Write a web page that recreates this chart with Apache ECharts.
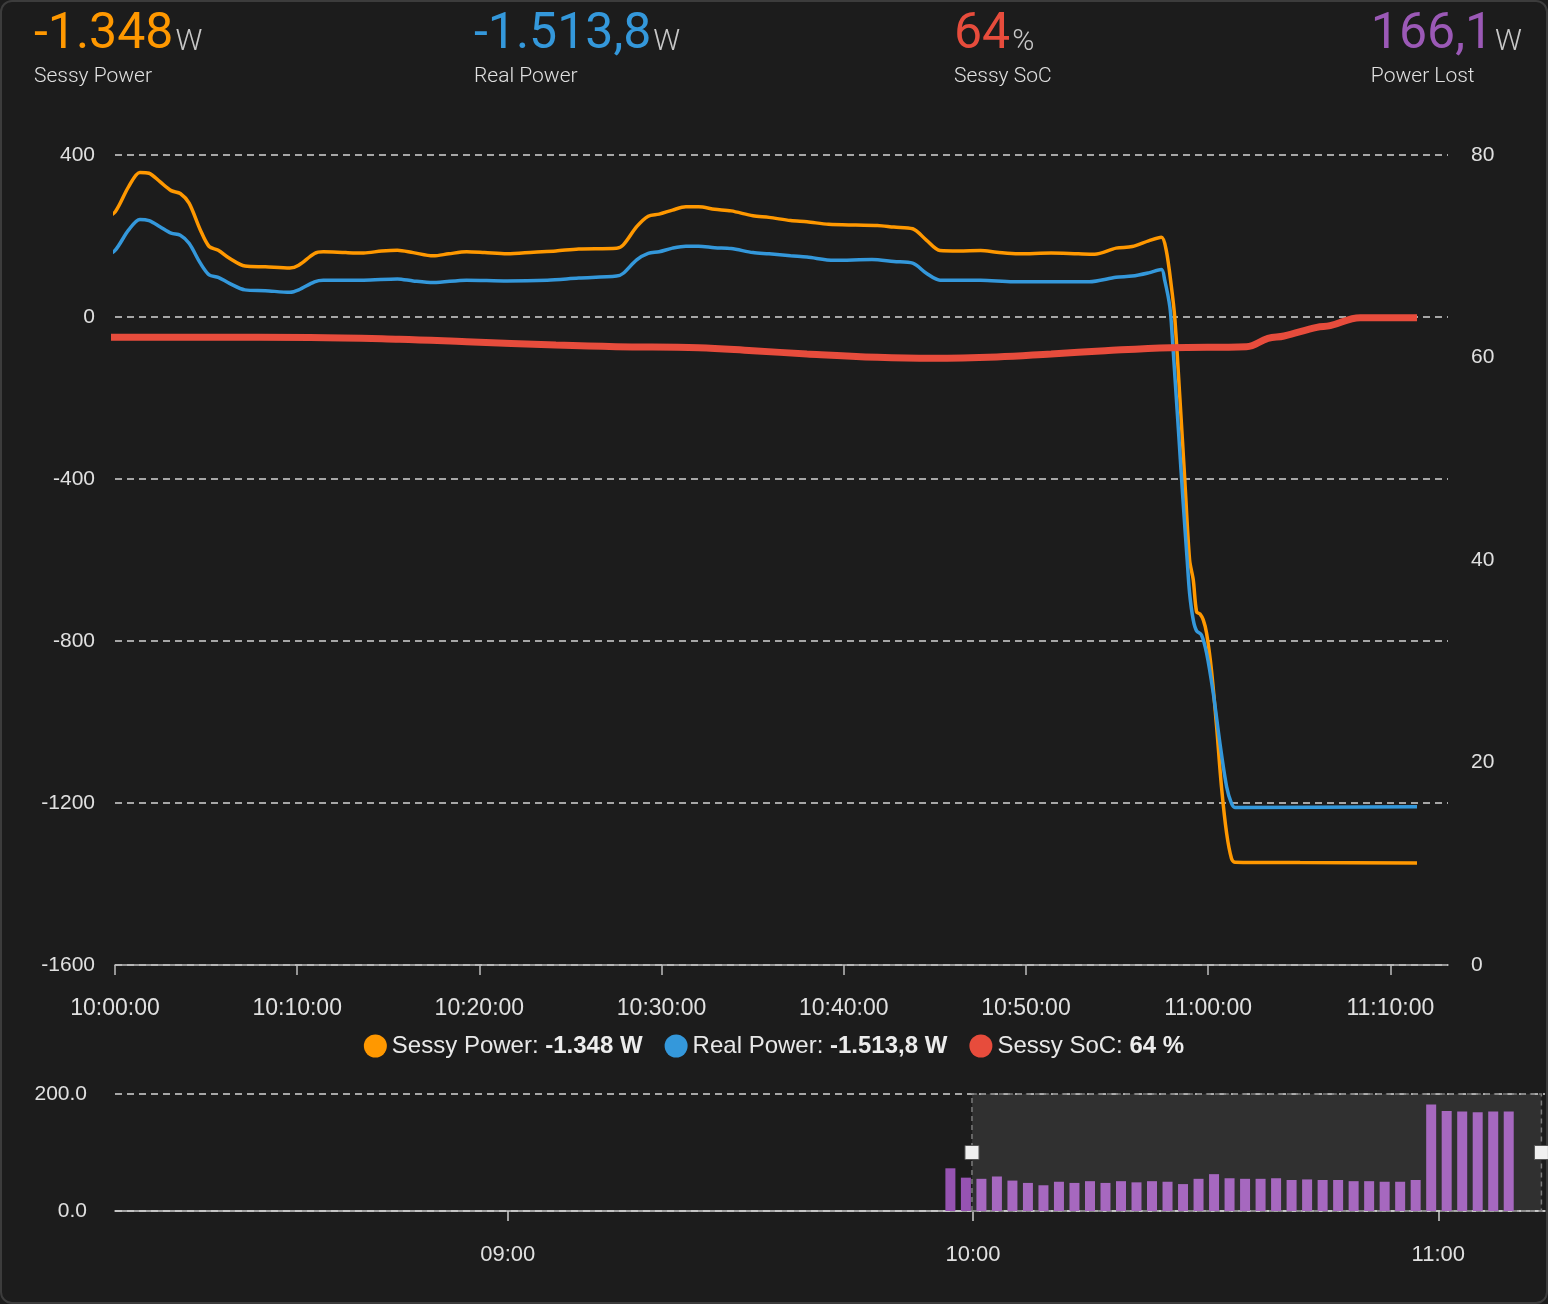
<!DOCTYPE html>
<html>
<head>
<meta charset="utf-8">
<script src="https://cdn.jsdelivr.net/npm/echarts@6/dist/echarts.min.js"></script>
<style>
html,body{margin:0;padding:0;background:#1c1c1c;}
#frame{position:absolute;left:0;top:0;width:1548px;height:1304px;box-sizing:border-box;border:2px solid #3c3c3c;border-radius:12px;background:#1c1c1c;}
#chart{position:absolute;left:0;top:0;width:1548px;height:1304px;}
</style>
</head>
<body>
<div id="frame"></div>
<div id="chart"></div>
<script>
// ---------- data ----------
const headerValues = ['-1.348', '-1.513,8', '64', '166,1'];
const headerUnits  = ['W', 'W', '%', 'W'];
const headerLabels = ['Sessy Power', 'Real Power', 'Sessy SoC', 'Power Lost'];
const headerColors = ['#ff9800', '#3498db', '#e74c3c', '#9b59b6'];

const legendNames  = ['Sessy Power', 'Real Power', 'Sessy SoC'];
const legendValues = ['-1.348 W', '-1.513,8 W', '64 %'];

const sessyTimes = ['09:59:29','10:00:01','10:00:45','10:01:22','10:01:52','10:02:28','10:03:05','10:03:35','10:04:04','10:04:41','10:05:10','10:05:40','10:06:17','10:07:08','10:08:15','10:09:36','10:10:05','10:10:57','10:11:26','10:12:40','10:13:39','10:14:38','10:15:30','10:16:22','10:17:28','10:18:19','10:19:18','10:20:17','10:21:31','10:22:59','10:24:12','10:25:27','10:27:32','10:27:54','10:28:38','10:29:16','10:29:52','10:30:36','10:31:20','10:32:02','10:32:55','10:33:49','10:35:01','10:35:54','10:37:05','10:37:59','10:39:10','10:40:40','10:41:51','10:42:45','10:43:47','10:44:32','10:45:17','10:46:19','10:47:31','10:48:24','10:49:35','10:51:23','10:52:52','10:53:46','10:54:57','10:55:50','10:56:44','10:57:26','10:57:42','10:57:59','10:58:10','10:58:27','10:58:43','10:58:59','10:59:11','10:59:22','10:59:33','10:59:44','10:59:55','11:00:11','11:00:28','11:00:44','11:01:01','11:01:17','11:01:28','11:05:03','11:11:28'];
const sessyValues = [244,260,322,357,355,334,312,305,281,215,174,165,145,126,124,121,128,157,161,159,158,163,165,159,151,156,161,159,156,160,163,168,170,178,223,249,254,264,272,272,266,262,250,246,238,235,229,227,226,222,218,190,164,163,164,160,156,158,156,155,170,174,188,197,165,75,0,-200,-400,-600,-649,-728,-733,-748,-781,-872,-1012,-1160,-1275,-1337,-1346,-1347,-1348];

const realTimes = ['09:59:29','10:00:01','10:00:45','10:01:22','10:01:52','10:02:28','10:03:05','10:03:35','10:04:04','10:04:41','10:05:10','10:05:40','10:06:17','10:07:08','10:08:15','10:09:36','10:10:05','10:10:57','10:11:26','10:13:39','10:15:30','10:16:22','10:17:28','10:19:18','10:21:31','10:23:44','10:25:27','10:27:32','10:27:54','10:28:38','10:29:16','10:29:52','10:30:36','10:31:20','10:32:02','10:32:55','10:33:49','10:35:01','10:35:54','10:37:05','10:37:59','10:39:28','10:41:33','10:42:45','10:43:47','10:44:32','10:45:17','10:47:31','10:49:18','10:53:28','10:54:57','10:55:50','10:56:44','10:57:26','10:57:37','10:57:54','10:58:02','10:58:07','10:58:24','10:58:37','10:58:51','10:58:59','10:59:11','10:59:22','10:59:38','10:59:55','11:00:17','11:00:39','11:01:01','11:01:17','11:01:28','11:11:28'];
const realValues = [149,165,215,241,238,223,207,202,182,133,104,98,83,67,65,61,67,87,91,91,94,89,85,91,89,91,96,101,108,141,157,161,170,175,175,171,169,159,156,151,148,140,142,137,133,108,91,91,87,87,98,101,109,117,91,25,-49,-106,-300,-450,-600,-682,-748,-775,-785,-830,-929,-1053,-1160,-1201,-1211,-1209];

const socTimes = ['09:59:29','10:05:00','10:10:42','10:15:36','10:19:18','10:24:12','10:27:30','10:32:02','10:35:01','10:37:59','10:41:51','10:44:52','10:48:24','10:51:23','10:54:21','10:57:56','11:02:06','11:03:17','11:04:10','11:05:58','11:06:42','11:08:21','11:11:28'];
const socValues = [62.0,62.0,61.98,61.8,61.56,61.23,61.07,60.97,60.67,60.35,60.02,59.92,60.05,60.35,60.67,60.97,61.07,61.89,62.12,62.98,63.14,63.93,63.93];

const lostTimes = ['09:57:05','09:59:05','10:01:05','10:03:05','10:05:05','10:07:05','10:09:05','10:11:05','10:13:05','10:15:05','10:17:05','10:19:05','10:21:05','10:23:05','10:25:05','10:27:05','10:29:05','10:31:05','10:33:05','10:35:05','10:37:05','10:39:05','10:41:05','10:43:05','10:45:05','10:47:05','10:49:05','10:51:05','10:53:05','10:55:05','10:57:05','10:59:05','11:01:05','11:03:05','11:05:05','11:07:05','11:09:05'];
const lostValues = [73,57,55,59,52,48,44,50,48,51,48,51,49,51,50,46,55,63,56,55,55,56,53,54,53,53,51,51,50,50,53,182,171,170,169,170,170];

const mainRange  = ['10:00:00', '11:13:10'];
const mainStepMs = 600000;      // 10 minute ticks
const brushRange = ['08:10:00', '11:13:07'];
const selection  = ['09:59:52', '11:13:18'];

// ---------- helpers ----------
const day = '2024-05-01T';
const ts = s => new Date(day + s).getTime();
const pair = (t, v) => t.map((s, i) => [ts(s), v[i]]);
const pad = n => String(n).padStart(2, '0');
const hms = v => { const d = new Date(v); return pad(d.getHours()) + ':' + pad(d.getMinutes()) + ':' + pad(d.getSeconds()); };
const hm = v => { const d = new Date(v); return pad(d.getHours()) + ':' + pad(d.getMinutes()); };

const axisFont = 'Liberation Sans, Arial, sans-serif';
const dashed = { show: true, lineStyle: { color: '#d4d4d4', width: 1.5, type: [7, 5] } };

const headerPos = [{ left: 29 }, { left: 469 }, { left: 949 }, { right: 21 }];
const titles = headerValues.map((v, i) => Object.assign({
  top: 2,
  text: '{v|' + v + '}{u|' + headerUnits[i] + '}',
  subtext: headerLabels[i],
  itemGap: 9,
  textStyle: {
    fontWeight: 'normal',
    rich: {
      v: { fontSize: 50, color: headerColors[i], fontFamily: 'Roboto', fontWeight: 'normal', lineHeight: 56 },
      u: { fontSize: 30, color: '#c8c8c8', fontFamily: 'Roboto', fontWeight: 300, verticalAlign: 'bottom', padding: [0, 0, 6, 2] }
    }
  },
  subtextStyle: { fontSize: 21, color: '#e0e0e0', fontFamily: 'Roboto', fontWeight: 300 }
}, headerPos[i]));

const selStart = ts(selection[0]), selEnd = ts(selection[1]);
const mainMin = ts(mainRange[0]);

const chart = echarts.init(document.getElementById('chart'), null, { renderer: 'canvas' });
chart.setOption({
  animation: false,
  backgroundColor: 'transparent',
  title: titles,
  legend: {
    data: legendNames,
    top: 1029,
    left: 'center',
    icon: 'circle',
    itemWidth: 23,
    itemHeight: 23,
    itemGap: 22,
    formatter: name => name + ': {b|' + legendValues[legendNames.indexOf(name)] + '}',
    textStyle: {
      color: '#e8e8e8', fontSize: 24, fontFamily: axisFont,
      rich: { b: { fontWeight: 'bold', fontSize: 24, color: '#ececec', fontFamily: axisFont } }
    }
  },
  grid: [
    { left: 115, right: 100, top: 155, height: 810 },
    { left: 115, right: 3, top: 1094, height: 117 }
  ],
  xAxis: [
    {
      type: 'value', gridIndex: 0,
      min: mainMin, max: ts(mainRange[1]), interval: mainStepMs,
      axisLine: { show: true, onZero: false, lineStyle: { color: '#bdbdbd', width: 1.5 } },
      axisTick: { show: true, length: 10, lineStyle: { color: '#bdbdbd', width: 1.5 } },
      axisLabel: {
        color: '#e0e0e0', fontSize: 23, fontFamily: axisFont, margin: 32,
        showMaxLabel: false,
        formatter: v => ((v - mainMin) % mainStepMs === 0 ? hms(v) : '')
      },
      splitLine: { show: false }
    },
    {
      type: 'time', gridIndex: 1,
      min: ts(brushRange[0]), max: ts(brushRange[1]),
      minInterval: 3600000, maxInterval: 3600000,
      axisLine: { show: true, onZero: false, lineStyle: { color: '#cfcfcf', width: 1.5 } },
      axisTick: { show: true, length: 10, lineStyle: { color: '#cfcfcf', width: 1.5 } },
      axisLabel: { color: '#e0e0e0', fontSize: 22, fontFamily: axisFont, margin: 33, formatter: v => hm(v) },
      splitLine: { show: false }
    }
  ],
  yAxis: [
    {
      type: 'value', gridIndex: 0, position: 'left',
      min: -1600, max: 400, interval: 400,
      axisLine: { show: false }, axisTick: { show: false },
      axisLabel: { color: '#e0e0e0', fontSize: 21, fontFamily: axisFont, margin: 20, formatter: v => String(v) },
      splitLine: dashed
    },
    {
      type: 'value', gridIndex: 0, position: 'right',
      min: 0, max: 80, interval: 20,
      axisLine: { show: false }, axisTick: { show: false },
      axisLabel: { color: '#e0e0e0', fontSize: 21, fontFamily: axisFont, margin: 23, formatter: v => String(v) },
      splitLine: { show: false }
    },
    {
      type: 'value', gridIndex: 1,
      min: 0, max: 200, interval: 200,
      axisLine: { show: false }, axisTick: { show: false },
      axisLabel: { color: '#e0e0e0', fontSize: 21, fontFamily: axisFont, margin: 28, formatter: v => v.toFixed(1) },
      splitLine: dashed
    }
  ],
  series: [
    {
      name: 'Sessy Power', type: 'line', xAxisIndex: 0, yAxisIndex: 0,
      data: pair(sessyTimes, sessyValues),
      smooth: 0.3, showSymbol: false, clip: false,
      lineStyle: { width: 3.5, color: '#ff9800' }, itemStyle: { color: '#ff9800' }
    },
    {
      name: 'Real Power', type: 'line', xAxisIndex: 0, yAxisIndex: 0,
      data: pair(realTimes, realValues),
      smooth: 0.3, showSymbol: false, clip: false,
      lineStyle: { width: 3.5, color: '#3498db' }, itemStyle: { color: '#3498db' }
    },
    {
      name: 'Sessy SoC', type: 'line', xAxisIndex: 0, yAxisIndex: 1,
      data: pair(socTimes, socValues),
      smooth: 0.4, showSymbol: false, clip: false,
      lineStyle: { width: 7, color: '#e74c3c' }, itemStyle: { color: '#e74c3c' }
    },
    {
      name: 'Power Lost', type: 'bar', xAxisIndex: 1, yAxisIndex: 2,
      data: pair(lostTimes, lostValues),
      barWidth: 10,
      itemStyle: { color: p => (p.value[0] >= selStart && p.value[0] <= selEnd) ? '#a668bf' : '#9653b2' },
      markArea: {
        silent: true,
        itemStyle: { color: 'rgba(255,255,255,0.09)', borderColor: '#7a7a7a', borderWidth: 1.5, borderType: [5, 4] },
        data: [[{ xAxis: selStart, yAxis: 200 }, { xAxis: selEnd, yAxis: 0 }]]
      },
      markPoint: {
        silent: true,
        symbol: 'rect', symbolSize: [14, 14],
        itemStyle: { color: '#f0f0f0', borderColor: '#555', borderWidth: 1 },
        label: { show: false },
        data: [{ coord: [selStart, 100] }, { coord: [selEnd, 100] }]
      }
    }
  ]
});
</script>
</body>
</html>
